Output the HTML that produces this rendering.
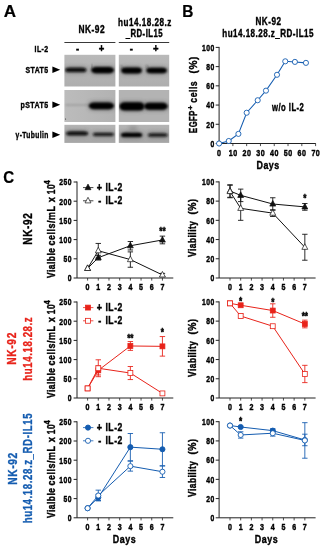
<!DOCTYPE html>
<html><head><meta charset="utf-8"><title>Figure</title>
<style>html,body{margin:0;padding:0;background:#fff}svg{display:block}text{font-family:"Liberation Sans",Arial,sans-serif;font-weight:bold}</style>
</head><body>
<svg width="325" height="550" viewBox="0 0 325 550">
<rect width="325" height="550" fill="#fff"/>
<text transform="translate(3.67,16.90) rotate(0) scale(1.0648,1)" font-size="16" text-anchor="start" fill="#000" stroke="#000" stroke-width="0.2" letter-spacing="0.96">A</text>
<text transform="translate(182.20,16.90) rotate(0) scale(0.9654,1)" font-size="16" text-anchor="start" fill="#000" stroke="#000" stroke-width="0.2" letter-spacing="0.96">B</text>
<text transform="translate(3.30,182.60) rotate(0) scale(0.9447,1)" font-size="16" text-anchor="start" fill="#000" stroke="#000" stroke-width="0.2" letter-spacing="0.96">C</text>
<text transform="translate(78.46,33.00) rotate(0) scale(0.8383,1)" font-size="10" text-anchor="start" fill="#000" stroke="#000" stroke-width="0.38" letter-spacing="0.6">NK-92</text>
<text transform="translate(118.07,25.60) rotate(0) scale(0.8124,1)" font-size="10" text-anchor="start" fill="#000" stroke="#000" stroke-width="0.38" letter-spacing="0.6">hu14.18.28.z</text>
<text transform="translate(125.68,37.40) rotate(0) scale(0.7764,1)" font-size="10" text-anchor="start" fill="#000" stroke="#000" stroke-width="0.38" letter-spacing="0.6">_RD-IL15</text>
<path d="M64.4 42.5H115.4M118.8 42.5H169.2" stroke="#222" stroke-width="0.9" fill="none"/>
<text transform="translate(34.54,52.40) rotate(0) scale(0.7787,1)" font-size="9" text-anchor="start" fill="#000" stroke="#000" stroke-width="0.38" letter-spacing="0.54">IL-2</text>
<text transform="translate(77.60,51.60) rotate(0) scale(0.9000,1)" font-size="10.5" text-anchor="middle" fill="#000" stroke="#000" stroke-width="0.45">-</text>
<text transform="translate(101.60,52.40) rotate(0) scale(0.9000,1)" font-size="10.5" text-anchor="middle" fill="#000" stroke="#000" stroke-width="0.45">+</text>
<text transform="translate(131.20,51.60) rotate(0) scale(0.9000,1)" font-size="10.5" text-anchor="middle" fill="#000" stroke="#000" stroke-width="0.45">-</text>
<text transform="translate(155.70,52.40) rotate(0) scale(0.9000,1)" font-size="10.5" text-anchor="middle" fill="#000" stroke="#000" stroke-width="0.45">+</text>
<text transform="translate(25.43,73.00) rotate(0) scale(0.7754,1)" font-size="9" text-anchor="start" fill="#000" stroke="#000" stroke-width="0.38" letter-spacing="0.54">STAT5</text>
<path d="M52.4 66.6L60.2 69.8L52.4 73.0Z" fill="#000"/>
<text transform="translate(20.54,108.00) rotate(0) scale(0.7812,1)" font-size="9" text-anchor="start" fill="#000" stroke="#000" stroke-width="0.38" letter-spacing="0.54">pSTAT5</text>
<path d="M52.4 101.6L60.2 104.8L52.4 108.0Z" fill="#000"/>
<text transform="translate(15.60,138.00) rotate(0) scale(0.7430,1)" font-size="9" text-anchor="start" fill="#000" stroke="#000" stroke-width="0.38" letter-spacing="0.54">γ-Tubulin</text>
<path d="M52.4 131.60000000000002L60.2 134.8L52.4 138.0Z" fill="#000"/>
<defs><filter id="b1" x="-20%" y="-80%" width="140%" height="260%"><feGaussianBlur stdDeviation="0.9 0.8"/></filter><filter id="b2" x="-20%" y="-80%" width="140%" height="260%"><feGaussianBlur stdDeviation="1.2 1.0"/></filter><filter id="b3" x="-30%" y="-150%" width="160%" height="400%"><feGaussianBlur stdDeviation="2.0 2.2"/></filter><linearGradient id="bgA" x1="0" y1="0" x2="0" y2="1"><stop offset="0" stop-color="#b9b9b9"/><stop offset="1" stop-color="#aeaeae"/></linearGradient><linearGradient id="bgB" x1="0" y1="0" x2="1" y2="0"><stop offset="0" stop-color="#bcbcbc"/><stop offset="1" stop-color="#b2b2b2"/></linearGradient><linearGradient id="bgC" x1="0" y1="0" x2="0" y2="1"><stop offset="0" stop-color="#b4b4b4"/><stop offset="1" stop-color="#a6a6a6"/></linearGradient></defs>
<clipPath id="c1"><rect x="64.4" y="54.8" width="51.0" height="31.700000000000003"/></clipPath>
<rect x="64.4" y="54.8" width="51.0" height="31.700000000000003" fill="url(#bgA)"/>
<g clip-path="url(#c1)">
<rect x="64.8" y="66.90" width="22.0" height="6.00" rx="3.20" fill="#333" opacity="0.45" filter="url(#b3)"/>
<rect x="65.3" y="67.70" width="21.0" height="4.4" rx="4.62" ry="2.2" fill="#0a0a0a" filter="url(#b1)"/>
<rect x="90.7" y="66.20" width="23.799999999999997" height="7.80" rx="4.10" fill="#333" opacity="0.45" filter="url(#b3)"/>
<rect x="91.2" y="67.00" width="22.799999999999997" height="6.2" rx="5.02" ry="3.1" fill="#000" filter="url(#b1)"/>
<path d="M91.6 64.8L92.6 68.5" stroke="#222" stroke-width="0.7" filter="url(#b1)"/>
</g>
<clipPath id="c2"><rect x="118.8" y="54.8" width="50.39999999999999" height="31.700000000000003"/></clipPath>
<rect x="118.8" y="54.8" width="50.39999999999999" height="31.700000000000003" fill="url(#bgA)"/>
<g clip-path="url(#c2)">
<rect x="120.8" y="66.80" width="21.500000000000014" height="7.40" rx="3.90" fill="#333" opacity="0.45" filter="url(#b3)"/>
<rect x="121.3" y="67.60" width="20.500000000000014" height="5.8" rx="4.51" ry="2.9" fill="#000" filter="url(#b1)"/>
<rect x="145.9" y="67.00" width="21.400000000000006" height="7.00" rx="3.70" fill="#333" opacity="0.45" filter="url(#b3)"/>
<rect x="146.4" y="67.80" width="20.400000000000006" height="5.4" rx="4.49" ry="2.7" fill="#000" filter="url(#b1)"/>
<path d="M121.2 65.5L122.4 68.8M146.6 65.2L147.6 68.6" stroke="#222" stroke-width="0.7" filter="url(#b1)"/>
</g>
<clipPath id="c3"><rect x="64.4" y="90" width="51.0" height="32"/></clipPath>
<rect x="64.4" y="90" width="51.0" height="32" fill="url(#bgB)"/>
<g clip-path="url(#c3)">
<rect x="65" y="104.10" width="24" height="1.8" rx="2.16" ry="0.9" fill="#a2a2a2" filter="url(#b2)"/>
<rect x="88.3" y="101.60" width="26.200000000000003" height="8.40" rx="4.40" fill="#333" opacity="0.45" filter="url(#b3)"/>
<rect x="88.8" y="102.40" width="25.200000000000003" height="6.8" rx="5.54" ry="3.4" fill="#000" filter="url(#b1)"/>
<circle cx="65.6" cy="119" r="0.55" fill="#222"/>
</g>
<clipPath id="c4"><rect x="118.8" y="90" width="50.39999999999999" height="32"/></clipPath>
<rect x="118.8" y="90" width="50.39999999999999" height="32" fill="#b3b3b3"/>
<g clip-path="url(#c4)">
<rect x="118.9" y="101.40" width="26.19999999999999" height="9.80" rx="5.10" fill="#333" opacity="0.45" filter="url(#b3)"/>
<rect x="119.4" y="102.20" width="25.19999999999999" height="8.2" rx="5.54" ry="4.1" fill="#000" filter="url(#b1)"/>
<rect x="143.7" y="102.00" width="24.400000000000006" height="8.60" rx="4.50" fill="#333" opacity="0.45" filter="url(#b3)"/>
<rect x="144.2" y="102.80" width="23.400000000000006" height="7.0" rx="5.15" ry="3.5" fill="#000" filter="url(#b1)"/>

</g>
<clipPath id="c5"><rect x="64.4" y="124.8" width="51.0" height="18.10000000000001"/></clipPath>
<rect x="64.4" y="124.8" width="51.0" height="18.10000000000001" fill="url(#bgC)"/>
<g clip-path="url(#c5)">
<rect x="65.8" y="130.70" width="22.700000000000003" height="5.40" rx="2.90" fill="#333" opacity="0.45" filter="url(#b3)"/>
<rect x="66.3" y="131.50" width="21.700000000000003" height="3.8" rx="4.56" ry="1.9" fill="#0a0a0a" filter="url(#b1)"/>
<rect x="92.5" y="132.20" width="21.799999999999997" height="4.40" rx="2.40" fill="#333" opacity="0.45" filter="url(#b3)"/>
<rect x="93" y="133.00" width="20.799999999999997" height="2.8" rx="3.36" ry="1.4" fill="#111" filter="url(#b1)"/>

</g>
<clipPath id="c6"><rect x="118.8" y="124.8" width="50.39999999999999" height="18.10000000000001"/></clipPath>
<rect x="118.8" y="124.8" width="50.39999999999999" height="18.10000000000001" fill="url(#bgC)"/>
<g clip-path="url(#c6)">
<rect x="120.5" y="131.90" width="22.19999999999999" height="6.00" rx="3.20" fill="#333" opacity="0.45" filter="url(#b3)"/>
<rect x="121" y="132.70" width="21.19999999999999" height="4.4" rx="4.66" ry="2.2" fill="#050505" filter="url(#b1)"/>
<rect x="147.5" y="132.60" width="20.5" height="4.80" rx="2.60" fill="#333" opacity="0.45" filter="url(#b3)"/>
<rect x="148" y="133.40" width="19.5" height="3.2" rx="3.84" ry="1.6" fill="#111" filter="url(#b1)"/>
<ellipse cx="133" cy="128.5" rx="4" ry="3" fill="#777" opacity="0.5" filter="url(#b3)"/>
</g>
<path d="M219.1 46.90V143.5H315.8M215.7 143.50H219.1M215.7 124.28H219.1M215.7 105.06H219.1M215.7 85.84H219.1M215.7 66.62H219.1M215.7 47.40H219.1" stroke="#222" stroke-width="1" fill="none"/>
<path d="M219.10 143.5V146.1M232.89 143.5V146.1M246.67 143.5V146.1M260.46 143.5V146.1M274.24 143.5V146.1M288.03 143.5V146.1M301.82 143.5V146.1M315.60 143.5V146.1" stroke="#222" stroke-width="0.8" fill="none"/>
<text transform="translate(214.70,146.85) rotate(0) scale(0.7200,1)" font-size="9.4" text-anchor="end" fill="#000" stroke="#000" stroke-width="0.45" letter-spacing="0.7">0</text>
<text transform="translate(214.70,127.63) rotate(0) scale(0.7200,1)" font-size="9.4" text-anchor="end" fill="#000" stroke="#000" stroke-width="0.45" letter-spacing="0.7">20</text>
<text transform="translate(214.70,108.41) rotate(0) scale(0.7200,1)" font-size="9.4" text-anchor="end" fill="#000" stroke="#000" stroke-width="0.45" letter-spacing="0.7">40</text>
<text transform="translate(214.70,89.19) rotate(0) scale(0.7200,1)" font-size="9.4" text-anchor="end" fill="#000" stroke="#000" stroke-width="0.45" letter-spacing="0.7">60</text>
<text transform="translate(214.70,69.97) rotate(0) scale(0.7200,1)" font-size="9.4" text-anchor="end" fill="#000" stroke="#000" stroke-width="0.45" letter-spacing="0.7">80</text>
<text transform="translate(214.70,50.75) rotate(0) scale(0.7200,1)" font-size="9.4" text-anchor="end" fill="#000" stroke="#000" stroke-width="0.45" letter-spacing="0.7">100</text>
<text transform="translate(219.35,156.10) rotate(0) scale(0.7400,1)" font-size="9.6" text-anchor="middle" fill="#000" stroke="#000" stroke-width="0.45" letter-spacing="0.7">0</text>
<text transform="translate(233.14,156.10) rotate(0) scale(0.7400,1)" font-size="9.6" text-anchor="middle" fill="#000" stroke="#000" stroke-width="0.45" letter-spacing="0.7">10</text>
<text transform="translate(246.92,156.10) rotate(0) scale(0.7400,1)" font-size="9.6" text-anchor="middle" fill="#000" stroke="#000" stroke-width="0.45" letter-spacing="0.7">20</text>
<text transform="translate(260.71,156.10) rotate(0) scale(0.7400,1)" font-size="9.6" text-anchor="middle" fill="#000" stroke="#000" stroke-width="0.45" letter-spacing="0.7">30</text>
<text transform="translate(274.50,156.10) rotate(0) scale(0.7400,1)" font-size="9.6" text-anchor="middle" fill="#000" stroke="#000" stroke-width="0.45" letter-spacing="0.7">40</text>
<text transform="translate(288.28,156.10) rotate(0) scale(0.7400,1)" font-size="9.6" text-anchor="middle" fill="#000" stroke="#000" stroke-width="0.45" letter-spacing="0.7">50</text>
<text transform="translate(302.07,156.10) rotate(0) scale(0.7400,1)" font-size="9.6" text-anchor="middle" fill="#000" stroke="#000" stroke-width="0.45" letter-spacing="0.7">60</text>
<text transform="translate(315.85,156.10) rotate(0) scale(0.7400,1)" font-size="9.6" text-anchor="middle" fill="#000" stroke="#000" stroke-width="0.45" letter-spacing="0.7">70</text>
<text transform="translate(255.47,25.30) rotate(0) scale(0.8152,1)" font-size="10" text-anchor="start" fill="#000" stroke="#000" stroke-width="0.38" letter-spacing="0.6">NK-92</text>
<text transform="translate(222.28,36.90) rotate(0) scale(0.8035,1)" font-size="10" text-anchor="start" fill="#000" stroke="#000" stroke-width="0.38" letter-spacing="0.6">hu14.18.28.z_RD-IL15</text>
<text transform="translate(256.42,169.00) rotate(0) scale(0.8097,1)" font-size="11" text-anchor="start" fill="#000" stroke="#000" stroke-width="0.38" letter-spacing="0.6599999999999999">Days</text>
<text transform="translate(272.04,111.00) rotate(0) scale(0.7689,1)" font-size="10" text-anchor="start" fill="#000" stroke="#000" stroke-width="0.38" letter-spacing="0.6">w/o IL-2</text>
<text transform="translate(196.60,132.90) rotate(-90) scale(0.7336,1)" font-size="10.4" text-anchor="start" fill="#000" stroke="#000" stroke-width="0.38" letter-spacing="0.624">EGFP</text>
<text transform="translate(193.00,107.60) rotate(-90) scale(0.9000,1)" font-size="8" text-anchor="middle" fill="#000" stroke="#000" stroke-width="0.45">+</text>
<text transform="translate(196.60,102.70) rotate(-90) scale(0.8351,1)" font-size="10.4" text-anchor="start" fill="#000" stroke="#000" stroke-width="0.38" letter-spacing="0.624">cells</text>
<text transform="translate(196.60,73.46) rotate(-90) scale(0.9737,1)" font-size="10.4" text-anchor="start" fill="#000" stroke="#000" stroke-width="0.38" letter-spacing="0.624">(%)</text>
<path d="M219.10 143.50L228.75 141.00L238.40 133.89L246.67 112.75L257.70 100.25L265.97 90.65L277.00 74.79L285.27 61.33L294.92 61.91L305.95 62.87" stroke="#145cb0" stroke-width="1.05" fill="none"/>
<circle cx="219.10" cy="143.50" r="2.57" fill="#fff" stroke="#145cb0" stroke-width="0.9"/>
<circle cx="228.75" cy="141.00" r="2.57" fill="#fff" stroke="#145cb0" stroke-width="0.9"/>
<circle cx="238.40" cy="133.89" r="2.57" fill="#fff" stroke="#145cb0" stroke-width="0.9"/>
<circle cx="246.67" cy="112.75" r="2.57" fill="#fff" stroke="#145cb0" stroke-width="0.9"/>
<circle cx="257.70" cy="100.25" r="2.57" fill="#fff" stroke="#145cb0" stroke-width="0.9"/>
<circle cx="265.97" cy="90.65" r="2.57" fill="#fff" stroke="#145cb0" stroke-width="0.9"/>
<circle cx="277.00" cy="74.79" r="2.57" fill="#fff" stroke="#145cb0" stroke-width="0.9"/>
<circle cx="285.27" cy="61.33" r="2.57" fill="#fff" stroke="#145cb0" stroke-width="0.9"/>
<circle cx="294.92" cy="61.91" r="2.57" fill="#fff" stroke="#145cb0" stroke-width="0.9"/>
<circle cx="305.95" cy="62.87" r="2.57" fill="#fff" stroke="#145cb0" stroke-width="0.9"/>
<path d="M77.0 181.50V278.0H173.3M73.6 278.00H77.0M73.6 258.80H77.0M73.6 239.60H77.0M73.6 220.40H77.0M73.6 201.20H77.0M73.6 182.00H77.0" stroke="#222" stroke-width="1" fill="none"/>
<path d="M87.60 278.0V280.6M98.29 278.0V280.6M108.98 278.0V280.6M119.67 278.0V280.6M130.36 278.0V280.6M141.05 278.0V280.6M151.74 278.0V280.6M162.43 278.0V280.6" stroke="#222" stroke-width="0.8" fill="none"/>
<text transform="translate(72.00,281.35) rotate(0) scale(0.7200,1)" font-size="9.4" text-anchor="end" fill="#000" stroke="#000" stroke-width="0.45" letter-spacing="0.7">0</text>
<text transform="translate(72.00,262.15) rotate(0) scale(0.7200,1)" font-size="9.4" text-anchor="end" fill="#000" stroke="#000" stroke-width="0.45" letter-spacing="0.7">50</text>
<text transform="translate(72.00,242.95) rotate(0) scale(0.7200,1)" font-size="9.4" text-anchor="end" fill="#000" stroke="#000" stroke-width="0.45" letter-spacing="0.7">100</text>
<text transform="translate(72.00,223.75) rotate(0) scale(0.7200,1)" font-size="9.4" text-anchor="end" fill="#000" stroke="#000" stroke-width="0.45" letter-spacing="0.7">150</text>
<text transform="translate(72.00,204.55) rotate(0) scale(0.7200,1)" font-size="9.4" text-anchor="end" fill="#000" stroke="#000" stroke-width="0.45" letter-spacing="0.7">200</text>
<text transform="translate(72.00,185.35) rotate(0) scale(0.7200,1)" font-size="9.4" text-anchor="end" fill="#000" stroke="#000" stroke-width="0.45" letter-spacing="0.7">250</text>
<text transform="translate(87.85,290.00) rotate(0) scale(0.7400,1)" font-size="9.6" text-anchor="middle" fill="#000" stroke="#000" stroke-width="0.45" letter-spacing="0.7">0</text>
<text transform="translate(98.54,290.00) rotate(0) scale(0.7400,1)" font-size="9.6" text-anchor="middle" fill="#000" stroke="#000" stroke-width="0.45" letter-spacing="0.7">1</text>
<text transform="translate(109.23,290.00) rotate(0) scale(0.7400,1)" font-size="9.6" text-anchor="middle" fill="#000" stroke="#000" stroke-width="0.45" letter-spacing="0.7">2</text>
<text transform="translate(119.92,290.00) rotate(0) scale(0.7400,1)" font-size="9.6" text-anchor="middle" fill="#000" stroke="#000" stroke-width="0.45" letter-spacing="0.7">3</text>
<text transform="translate(130.61,290.00) rotate(0) scale(0.7400,1)" font-size="9.6" text-anchor="middle" fill="#000" stroke="#000" stroke-width="0.45" letter-spacing="0.7">4</text>
<text transform="translate(141.30,290.00) rotate(0) scale(0.7400,1)" font-size="9.6" text-anchor="middle" fill="#000" stroke="#000" stroke-width="0.45" letter-spacing="0.7">5</text>
<text transform="translate(151.99,290.00) rotate(0) scale(0.7400,1)" font-size="9.6" text-anchor="middle" fill="#000" stroke="#000" stroke-width="0.45" letter-spacing="0.7">6</text>
<text transform="translate(162.68,290.00) rotate(0) scale(0.7400,1)" font-size="9.6" text-anchor="middle" fill="#000" stroke="#000" stroke-width="0.45" letter-spacing="0.7">7</text>
<path d="M87.60 268.40L98.29 257.65L130.36 245.74L162.43 239.98" stroke="#111" stroke-width="1.0" fill="none"/>
<path d="M98.29 255.34V259.95M95.59 255.34H100.99M95.59 259.95H100.99M130.36 241.52V249.97M127.66 241.52H133.06M127.66 249.97H133.06M162.43 236.14V243.82M159.73 236.14H165.13M159.73 243.82H165.13" stroke="#111" stroke-width="0.88" fill="none"/>
<path d="M87.60 264.90L90.55 270.50H84.65Z" fill="#111" stroke="#111" stroke-width="0.7" stroke-linejoin="miter"/>
<path d="M98.29 254.15L101.24 259.75H95.34Z" fill="#111" stroke="#111" stroke-width="0.7" stroke-linejoin="miter"/>
<path d="M130.36 242.24L133.31 247.84H127.41Z" fill="#111" stroke="#111" stroke-width="0.7" stroke-linejoin="miter"/>
<path d="M162.43 236.48L165.38 242.08H159.48Z" fill="#111" stroke="#111" stroke-width="0.7" stroke-linejoin="miter"/>
<path d="M87.60 268.40L98.29 250.74L130.36 259.57L162.43 274.93" stroke="#111" stroke-width="1.0" fill="none"/>
<path d="M98.29 243.44V258.03M95.59 243.44H100.99M95.59 258.03H100.99M130.36 251.89V267.25M127.66 251.89H133.06M127.66 267.25H133.06M162.43 273.39V276.46M159.73 273.39H165.13M159.73 276.46H165.13" stroke="#111" stroke-width="0.88" fill="none"/>
<path d="M87.60 264.90L90.55 270.50H84.65Z" fill="#fff" stroke="#111" stroke-width="0.7" stroke-linejoin="miter"/>
<path d="M98.29 247.24L101.24 252.84H95.34Z" fill="#fff" stroke="#111" stroke-width="0.7" stroke-linejoin="miter"/>
<path d="M130.36 256.07L133.31 261.67H127.41Z" fill="#fff" stroke="#111" stroke-width="0.7" stroke-linejoin="miter"/>
<path d="M162.43 271.43L165.38 277.03H159.48Z" fill="#fff" stroke="#111" stroke-width="0.7" stroke-linejoin="miter"/>
<path d="M83 187.6H93.4M83 200.79999999999998H93.4" stroke="#111" stroke-width="0.8"/>
<path d="M88.00 184.10L90.95 189.70H85.05Z" fill="#111" stroke="#111" stroke-width="0.7" stroke-linejoin="miter"/>
<path d="M88.00 197.30L90.95 202.90H85.05Z" fill="#fff" stroke="#111" stroke-width="0.7" stroke-linejoin="miter"/>
<text transform="translate(99.50,191.00) rotate(0) scale(0.9000,1)" font-size="10" text-anchor="middle" fill="#000" stroke="#000" stroke-width="0.45">+</text>
<text transform="translate(105.44,191.00) rotate(0) scale(0.8625,1)" font-size="10" text-anchor="start" fill="#000" stroke="#000" stroke-width="0.38" letter-spacing="0.6">IL-2</text>
<text transform="translate(99.80,203.60) rotate(0) scale(0.9000,1)" font-size="10" text-anchor="middle" fill="#000" stroke="#000" stroke-width="0.45">-</text>
<text transform="translate(105.44,203.60) rotate(0) scale(0.8625,1)" font-size="10" text-anchor="start" fill="#000" stroke="#000" stroke-width="0.38" letter-spacing="0.6">IL-2</text>
<text transform="translate(162.43,234.80) rotate(0) scale(0.8200,1)" font-size="10" text-anchor="middle" fill="#000" stroke="#000" stroke-width="0.45">**</text>
<text transform="translate(54.60,278.04) rotate(-90) scale(0.8090,1)" font-size="10.4" text-anchor="start" fill="#000" stroke="#000" stroke-width="0.38" letter-spacing="0.624">Vialble</text>
<text transform="translate(54.60,245.61) rotate(-90) scale(0.8601,1)" font-size="10.4" text-anchor="start" fill="#000" stroke="#000" stroke-width="0.38" letter-spacing="0.624">cells/mL</text>
<text transform="translate(54.60,202.35) rotate(-90) scale(0.8821,1)" font-size="10.4" text-anchor="start" fill="#000" stroke="#000" stroke-width="0.38" letter-spacing="0.624">x</text>
<text transform="translate(54.60,194.20) rotate(-90) scale(0.8050,1)" font-size="10.4" text-anchor="start" fill="#000" stroke="#000" stroke-width="0.38" letter-spacing="0.624">10</text>
<text transform="translate(49.70,184.41) rotate(-90) scale(0.8932,1)" font-size="8.5" text-anchor="start" fill="#000" stroke="#000" stroke-width="0.38" letter-spacing="0.51">4</text>
<path d="M219.1 181.40V278.0H315.6M215.7 278.00H219.1M215.7 258.78H219.1M215.7 239.56H219.1M215.7 220.34H219.1M215.7 201.12H219.1M215.7 181.90H219.1" stroke="#222" stroke-width="1" fill="none"/>
<path d="M230.00 278.0V280.6M240.69 278.0V280.6M251.38 278.0V280.6M262.07 278.0V280.6M272.76 278.0V280.6M283.45 278.0V280.6M294.14 278.0V280.6M304.83 278.0V280.6" stroke="#222" stroke-width="0.8" fill="none"/>
<text transform="translate(214.70,281.35) rotate(0) scale(0.7200,1)" font-size="9.4" text-anchor="end" fill="#000" stroke="#000" stroke-width="0.45" letter-spacing="0.7">0</text>
<text transform="translate(214.70,262.13) rotate(0) scale(0.7200,1)" font-size="9.4" text-anchor="end" fill="#000" stroke="#000" stroke-width="0.45" letter-spacing="0.7">20</text>
<text transform="translate(214.70,242.91) rotate(0) scale(0.7200,1)" font-size="9.4" text-anchor="end" fill="#000" stroke="#000" stroke-width="0.45" letter-spacing="0.7">40</text>
<text transform="translate(214.70,223.69) rotate(0) scale(0.7200,1)" font-size="9.4" text-anchor="end" fill="#000" stroke="#000" stroke-width="0.45" letter-spacing="0.7">60</text>
<text transform="translate(214.70,204.47) rotate(0) scale(0.7200,1)" font-size="9.4" text-anchor="end" fill="#000" stroke="#000" stroke-width="0.45" letter-spacing="0.7">80</text>
<text transform="translate(214.70,185.25) rotate(0) scale(0.7200,1)" font-size="9.4" text-anchor="end" fill="#000" stroke="#000" stroke-width="0.45" letter-spacing="0.7">100</text>
<text transform="translate(230.25,290.00) rotate(0) scale(0.7400,1)" font-size="9.6" text-anchor="middle" fill="#000" stroke="#000" stroke-width="0.45" letter-spacing="0.7">0</text>
<text transform="translate(240.94,290.00) rotate(0) scale(0.7400,1)" font-size="9.6" text-anchor="middle" fill="#000" stroke="#000" stroke-width="0.45" letter-spacing="0.7">1</text>
<text transform="translate(251.63,290.00) rotate(0) scale(0.7400,1)" font-size="9.6" text-anchor="middle" fill="#000" stroke="#000" stroke-width="0.45" letter-spacing="0.7">2</text>
<text transform="translate(262.32,290.00) rotate(0) scale(0.7400,1)" font-size="9.6" text-anchor="middle" fill="#000" stroke="#000" stroke-width="0.45" letter-spacing="0.7">3</text>
<text transform="translate(273.01,290.00) rotate(0) scale(0.7400,1)" font-size="9.6" text-anchor="middle" fill="#000" stroke="#000" stroke-width="0.45" letter-spacing="0.7">4</text>
<text transform="translate(283.70,290.00) rotate(0) scale(0.7400,1)" font-size="9.6" text-anchor="middle" fill="#000" stroke="#000" stroke-width="0.45" letter-spacing="0.7">5</text>
<text transform="translate(294.39,290.00) rotate(0) scale(0.7400,1)" font-size="9.6" text-anchor="middle" fill="#000" stroke="#000" stroke-width="0.45" letter-spacing="0.7">6</text>
<text transform="translate(305.08,290.00) rotate(0) scale(0.7400,1)" font-size="9.6" text-anchor="middle" fill="#000" stroke="#000" stroke-width="0.45" letter-spacing="0.7">7</text>
<path d="M230.00 191.03L240.69 195.35L272.76 204.00L304.83 206.89" stroke="#111" stroke-width="1.0" fill="none"/>
<path d="M230.00 184.78V197.28M227.30 184.78H232.70M227.30 197.28H232.70M240.69 189.11V201.60M237.99 189.11H243.39M237.99 201.60H243.39M272.76 197.76V210.25M270.06 197.76H275.46M270.06 210.25H275.46M304.83 203.52V210.25M302.13 203.52H307.53M302.13 210.25H307.53" stroke="#111" stroke-width="0.88" fill="none"/>
<path d="M230.00 187.53L232.95 193.13H227.05Z" fill="#111" stroke="#111" stroke-width="0.7" stroke-linejoin="miter"/>
<path d="M240.69 191.85L243.64 197.45H237.74Z" fill="#111" stroke="#111" stroke-width="0.7" stroke-linejoin="miter"/>
<path d="M272.76 200.50L275.71 206.10H269.81Z" fill="#111" stroke="#111" stroke-width="0.7" stroke-linejoin="miter"/>
<path d="M304.83 203.39L307.78 208.99H301.88Z" fill="#111" stroke="#111" stroke-width="0.7" stroke-linejoin="miter"/>
<path d="M230.00 191.51L240.69 208.33L272.76 213.13L304.83 247.25" stroke="#111" stroke-width="1.0" fill="none"/>
<path d="M230.00 185.26V197.76M227.30 185.26H232.70M227.30 197.76H232.70M240.69 196.31V220.34M237.99 196.31H243.39M237.99 220.34H243.39M272.76 209.77V216.50M270.06 209.77H275.46M270.06 216.50H275.46M304.83 234.27V260.22M302.13 234.27H307.53M302.13 260.22H307.53" stroke="#111" stroke-width="0.88" fill="none"/>
<path d="M230.00 188.01L232.95 193.61H227.05Z" fill="#fff" stroke="#111" stroke-width="0.7" stroke-linejoin="miter"/>
<path d="M240.69 204.83L243.64 210.43H237.74Z" fill="#fff" stroke="#111" stroke-width="0.7" stroke-linejoin="miter"/>
<path d="M272.76 209.63L275.71 215.23H269.81Z" fill="#fff" stroke="#111" stroke-width="0.7" stroke-linejoin="miter"/>
<path d="M304.83 243.75L307.78 249.35H301.88Z" fill="#fff" stroke="#111" stroke-width="0.7" stroke-linejoin="miter"/>
<text transform="translate(304.83,202.30) rotate(0) scale(0.8200,1)" font-size="10" text-anchor="middle" fill="#000" stroke="#000" stroke-width="0.45">*</text>
<text transform="translate(196.00,257.04) rotate(-90) scale(0.8069,1)" font-size="10.4" text-anchor="start" fill="#000" stroke="#000" stroke-width="0.38" letter-spacing="0.624">Viability</text>
<text transform="translate(196.00,214.42) rotate(-90) scale(0.8885,1)" font-size="10.4" text-anchor="start" fill="#000" stroke="#000" stroke-width="0.38" letter-spacing="0.624">(%)</text>
<path d="M77.0 301.50V398.0H173.3M73.6 398.00H77.0M73.6 378.80H77.0M73.6 359.60H77.0M73.6 340.40H77.0M73.6 321.20H77.0M73.6 302.00H77.0" stroke="#222" stroke-width="1" fill="none"/>
<path d="M87.60 398.0V400.6M98.29 398.0V400.6M108.98 398.0V400.6M119.67 398.0V400.6M130.36 398.0V400.6M141.05 398.0V400.6M151.74 398.0V400.6M162.43 398.0V400.6" stroke="#222" stroke-width="0.8" fill="none"/>
<text transform="translate(72.00,401.35) rotate(0) scale(0.7200,1)" font-size="9.4" text-anchor="end" fill="#000" stroke="#000" stroke-width="0.45" letter-spacing="0.7">0</text>
<text transform="translate(72.00,382.15) rotate(0) scale(0.7200,1)" font-size="9.4" text-anchor="end" fill="#000" stroke="#000" stroke-width="0.45" letter-spacing="0.7">50</text>
<text transform="translate(72.00,362.95) rotate(0) scale(0.7200,1)" font-size="9.4" text-anchor="end" fill="#000" stroke="#000" stroke-width="0.45" letter-spacing="0.7">100</text>
<text transform="translate(72.00,343.75) rotate(0) scale(0.7200,1)" font-size="9.4" text-anchor="end" fill="#000" stroke="#000" stroke-width="0.45" letter-spacing="0.7">150</text>
<text transform="translate(72.00,324.55) rotate(0) scale(0.7200,1)" font-size="9.4" text-anchor="end" fill="#000" stroke="#000" stroke-width="0.45" letter-spacing="0.7">200</text>
<text transform="translate(72.00,305.35) rotate(0) scale(0.7200,1)" font-size="9.4" text-anchor="end" fill="#000" stroke="#000" stroke-width="0.45" letter-spacing="0.7">250</text>
<text transform="translate(87.85,410.00) rotate(0) scale(0.7400,1)" font-size="9.6" text-anchor="middle" fill="#000" stroke="#000" stroke-width="0.45" letter-spacing="0.7">0</text>
<text transform="translate(98.54,410.00) rotate(0) scale(0.7400,1)" font-size="9.6" text-anchor="middle" fill="#000" stroke="#000" stroke-width="0.45" letter-spacing="0.7">1</text>
<text transform="translate(109.23,410.00) rotate(0) scale(0.7400,1)" font-size="9.6" text-anchor="middle" fill="#000" stroke="#000" stroke-width="0.45" letter-spacing="0.7">2</text>
<text transform="translate(119.92,410.00) rotate(0) scale(0.7400,1)" font-size="9.6" text-anchor="middle" fill="#000" stroke="#000" stroke-width="0.45" letter-spacing="0.7">3</text>
<text transform="translate(130.61,410.00) rotate(0) scale(0.7400,1)" font-size="9.6" text-anchor="middle" fill="#000" stroke="#000" stroke-width="0.45" letter-spacing="0.7">4</text>
<text transform="translate(141.30,410.00) rotate(0) scale(0.7400,1)" font-size="9.6" text-anchor="middle" fill="#000" stroke="#000" stroke-width="0.45" letter-spacing="0.7">5</text>
<text transform="translate(151.99,410.00) rotate(0) scale(0.7400,1)" font-size="9.6" text-anchor="middle" fill="#000" stroke="#000" stroke-width="0.45" letter-spacing="0.7">6</text>
<text transform="translate(162.68,410.00) rotate(0) scale(0.7400,1)" font-size="9.6" text-anchor="middle" fill="#000" stroke="#000" stroke-width="0.45" letter-spacing="0.7">7</text>
<path d="M87.60 388.40L98.29 370.35L130.36 345.97L162.43 346.35" stroke="#e8231a" stroke-width="1.0" fill="none"/>
<path d="M98.29 365.74V374.96M95.59 365.74H100.99M95.59 374.96H100.99M130.36 341.55V350.38M127.66 341.55H133.06M127.66 350.38H133.06M162.43 336.56V356.14M159.73 336.56H165.13M159.73 356.14H165.13" stroke="#e8231a" stroke-width="0.88" fill="none"/>
<rect x="85.15" y="385.95" width="4.90" height="4.90" fill="#e8231a" stroke="#e8231a" stroke-width="0.8"/>
<rect x="95.84" y="367.90" width="4.90" height="4.90" fill="#e8231a" stroke="#e8231a" stroke-width="0.8"/>
<rect x="127.91" y="343.52" width="4.90" height="4.90" fill="#e8231a" stroke="#e8231a" stroke-width="0.8"/>
<rect x="159.98" y="343.90" width="4.90" height="4.90" fill="#e8231a" stroke="#e8231a" stroke-width="0.8"/>
<path d="M87.60 388.40L98.29 368.24L130.36 373.04L162.43 393.39" stroke="#e8231a" stroke-width="1.0" fill="none"/>
<path d="M98.29 359.79V376.69M95.59 359.79H100.99M95.59 376.69H100.99M130.36 366.51V379.57M127.66 366.51H133.06M127.66 379.57H133.06" stroke="#e8231a" stroke-width="0.88" fill="none"/>
<rect x="85.15" y="385.95" width="4.90" height="4.90" fill="#fff" stroke="#e8231a" stroke-width="0.8"/>
<rect x="95.84" y="365.79" width="4.90" height="4.90" fill="#fff" stroke="#e8231a" stroke-width="0.8"/>
<rect x="127.91" y="370.59" width="4.90" height="4.90" fill="#fff" stroke="#e8231a" stroke-width="0.8"/>
<rect x="159.98" y="390.94" width="4.90" height="4.90" fill="#fff" stroke="#e8231a" stroke-width="0.8"/>
<path d="M83 307.6H93.4M83 320.8H93.4" stroke="#e8231a" stroke-width="0.8"/>
<rect x="85.55" y="305.15" width="4.90" height="4.90" fill="#e8231a" stroke="#e8231a" stroke-width="0.8"/>
<rect x="85.55" y="318.35" width="4.90" height="4.90" fill="#fff" stroke="#e8231a" stroke-width="0.8"/>
<text transform="translate(99.50,311.00) rotate(0) scale(0.9000,1)" font-size="10" text-anchor="middle" fill="#000" stroke="#000" stroke-width="0.45">+</text>
<text transform="translate(105.44,311.00) rotate(0) scale(0.8625,1)" font-size="10" text-anchor="start" fill="#000" stroke="#000" stroke-width="0.38" letter-spacing="0.6">IL-2</text>
<text transform="translate(99.80,323.60) rotate(0) scale(0.9000,1)" font-size="10" text-anchor="middle" fill="#000" stroke="#000" stroke-width="0.45">-</text>
<text transform="translate(105.44,323.60) rotate(0) scale(0.8625,1)" font-size="10" text-anchor="start" fill="#000" stroke="#000" stroke-width="0.38" letter-spacing="0.6">IL-2</text>
<text transform="translate(130.36,341.80) rotate(0) scale(0.8200,1)" font-size="10" text-anchor="middle" fill="#000" stroke="#000" stroke-width="0.45">**</text>
<text transform="translate(162.43,335.60) rotate(0) scale(0.8200,1)" font-size="10" text-anchor="middle" fill="#000" stroke="#000" stroke-width="0.45">*</text>
<text transform="translate(54.60,398.04) rotate(-90) scale(0.8090,1)" font-size="10.4" text-anchor="start" fill="#000" stroke="#000" stroke-width="0.38" letter-spacing="0.624">Vialble</text>
<text transform="translate(54.60,365.61) rotate(-90) scale(0.8601,1)" font-size="10.4" text-anchor="start" fill="#000" stroke="#000" stroke-width="0.38" letter-spacing="0.624">cells/mL</text>
<text transform="translate(54.60,322.35) rotate(-90) scale(0.8821,1)" font-size="10.4" text-anchor="start" fill="#000" stroke="#000" stroke-width="0.38" letter-spacing="0.624">x</text>
<text transform="translate(54.60,314.20) rotate(-90) scale(0.8050,1)" font-size="10.4" text-anchor="start" fill="#000" stroke="#000" stroke-width="0.38" letter-spacing="0.624">10</text>
<text transform="translate(49.70,304.41) rotate(-90) scale(0.8932,1)" font-size="8.5" text-anchor="start" fill="#000" stroke="#000" stroke-width="0.38" letter-spacing="0.51">4</text>
<path d="M219.1 301.40V398.0H315.6M215.7 398.00H219.1M215.7 378.78H219.1M215.7 359.56H219.1M215.7 340.34H219.1M215.7 321.12H219.1M215.7 301.90H219.1" stroke="#222" stroke-width="1" fill="none"/>
<path d="M230.00 398.0V400.6M240.69 398.0V400.6M251.38 398.0V400.6M262.07 398.0V400.6M272.76 398.0V400.6M283.45 398.0V400.6M294.14 398.0V400.6M304.83 398.0V400.6" stroke="#222" stroke-width="0.8" fill="none"/>
<text transform="translate(214.70,401.35) rotate(0) scale(0.7200,1)" font-size="9.4" text-anchor="end" fill="#000" stroke="#000" stroke-width="0.45" letter-spacing="0.7">0</text>
<text transform="translate(214.70,382.13) rotate(0) scale(0.7200,1)" font-size="9.4" text-anchor="end" fill="#000" stroke="#000" stroke-width="0.45" letter-spacing="0.7">20</text>
<text transform="translate(214.70,362.91) rotate(0) scale(0.7200,1)" font-size="9.4" text-anchor="end" fill="#000" stroke="#000" stroke-width="0.45" letter-spacing="0.7">40</text>
<text transform="translate(214.70,343.69) rotate(0) scale(0.7200,1)" font-size="9.4" text-anchor="end" fill="#000" stroke="#000" stroke-width="0.45" letter-spacing="0.7">60</text>
<text transform="translate(214.70,324.47) rotate(0) scale(0.7200,1)" font-size="9.4" text-anchor="end" fill="#000" stroke="#000" stroke-width="0.45" letter-spacing="0.7">80</text>
<text transform="translate(214.70,305.25) rotate(0) scale(0.7200,1)" font-size="9.4" text-anchor="end" fill="#000" stroke="#000" stroke-width="0.45" letter-spacing="0.7">100</text>
<text transform="translate(230.25,410.00) rotate(0) scale(0.7400,1)" font-size="9.6" text-anchor="middle" fill="#000" stroke="#000" stroke-width="0.45" letter-spacing="0.7">0</text>
<text transform="translate(240.94,410.00) rotate(0) scale(0.7400,1)" font-size="9.6" text-anchor="middle" fill="#000" stroke="#000" stroke-width="0.45" letter-spacing="0.7">1</text>
<text transform="translate(251.63,410.00) rotate(0) scale(0.7400,1)" font-size="9.6" text-anchor="middle" fill="#000" stroke="#000" stroke-width="0.45" letter-spacing="0.7">2</text>
<text transform="translate(262.32,410.00) rotate(0) scale(0.7400,1)" font-size="9.6" text-anchor="middle" fill="#000" stroke="#000" stroke-width="0.45" letter-spacing="0.7">3</text>
<text transform="translate(273.01,410.00) rotate(0) scale(0.7400,1)" font-size="9.6" text-anchor="middle" fill="#000" stroke="#000" stroke-width="0.45" letter-spacing="0.7">4</text>
<text transform="translate(283.70,410.00) rotate(0) scale(0.7400,1)" font-size="9.6" text-anchor="middle" fill="#000" stroke="#000" stroke-width="0.45" letter-spacing="0.7">5</text>
<text transform="translate(294.39,410.00) rotate(0) scale(0.7400,1)" font-size="9.6" text-anchor="middle" fill="#000" stroke="#000" stroke-width="0.45" letter-spacing="0.7">6</text>
<text transform="translate(305.08,410.00) rotate(0) scale(0.7400,1)" font-size="9.6" text-anchor="middle" fill="#000" stroke="#000" stroke-width="0.45" letter-spacing="0.7">7</text>
<path d="M230.00 303.34L240.69 305.26L272.76 310.55L304.83 324.00" stroke="#e8231a" stroke-width="1.0" fill="none"/>
<path d="M272.76 303.82V317.28M270.06 303.82H275.46M270.06 317.28H275.46M304.83 320.16V327.85M302.13 320.16H307.53M302.13 327.85H307.53" stroke="#e8231a" stroke-width="0.88" fill="none"/>
<rect x="227.55" y="300.89" width="4.90" height="4.90" fill="#e8231a" stroke="#e8231a" stroke-width="0.8"/>
<rect x="238.24" y="302.81" width="4.90" height="4.90" fill="#e8231a" stroke="#e8231a" stroke-width="0.8"/>
<rect x="270.31" y="308.10" width="4.90" height="4.90" fill="#e8231a" stroke="#e8231a" stroke-width="0.8"/>
<rect x="302.38" y="321.55" width="4.90" height="4.90" fill="#e8231a" stroke="#e8231a" stroke-width="0.8"/>
<path d="M230.00 303.34L240.69 316.03L272.76 326.21L304.83 373.98" stroke="#e8231a" stroke-width="1.0" fill="none"/>
<path d="M240.69 314.10V317.95M237.99 314.10H243.39M237.99 317.95H243.39M304.83 365.33V382.62M302.13 365.33H307.53M302.13 382.62H307.53" stroke="#e8231a" stroke-width="0.88" fill="none"/>
<rect x="227.55" y="300.89" width="4.90" height="4.90" fill="#fff" stroke="#e8231a" stroke-width="0.8"/>
<rect x="238.24" y="313.58" width="4.90" height="4.90" fill="#fff" stroke="#e8231a" stroke-width="0.8"/>
<rect x="270.31" y="323.76" width="4.90" height="4.90" fill="#fff" stroke="#e8231a" stroke-width="0.8"/>
<rect x="302.38" y="371.53" width="4.90" height="4.90" fill="#fff" stroke="#e8231a" stroke-width="0.8"/>
<text transform="translate(240.69,304.60) rotate(0) scale(0.8200,1)" font-size="10" text-anchor="middle" fill="#000" stroke="#000" stroke-width="0.45">*</text>
<text transform="translate(272.76,305.80) rotate(0) scale(0.8200,1)" font-size="10" text-anchor="middle" fill="#000" stroke="#000" stroke-width="0.45">*</text>
<text transform="translate(304.83,320.10) rotate(0) scale(0.8200,1)" font-size="10" text-anchor="middle" fill="#000" stroke="#000" stroke-width="0.45">**</text>
<text transform="translate(196.00,377.04) rotate(-90) scale(0.8069,1)" font-size="10.4" text-anchor="start" fill="#000" stroke="#000" stroke-width="0.38" letter-spacing="0.624">Viability</text>
<text transform="translate(196.00,334.42) rotate(-90) scale(0.8885,1)" font-size="10.4" text-anchor="start" fill="#000" stroke="#000" stroke-width="0.38" letter-spacing="0.624">(%)</text>
<path d="M77.0 421.30V517.8H173.3M73.6 517.80H77.0M73.6 498.60H77.0M73.6 479.40H77.0M73.6 460.20H77.0M73.6 441.00H77.0M73.6 421.80H77.0" stroke="#222" stroke-width="1" fill="none"/>
<path d="M87.60 517.8V520.4M98.29 517.8V520.4M108.98 517.8V520.4M119.67 517.8V520.4M130.36 517.8V520.4M141.05 517.8V520.4M151.74 517.8V520.4M162.43 517.8V520.4" stroke="#222" stroke-width="0.8" fill="none"/>
<text transform="translate(72.00,521.15) rotate(0) scale(0.7200,1)" font-size="9.4" text-anchor="end" fill="#000" stroke="#000" stroke-width="0.45" letter-spacing="0.7">0</text>
<text transform="translate(72.00,501.95) rotate(0) scale(0.7200,1)" font-size="9.4" text-anchor="end" fill="#000" stroke="#000" stroke-width="0.45" letter-spacing="0.7">50</text>
<text transform="translate(72.00,482.75) rotate(0) scale(0.7200,1)" font-size="9.4" text-anchor="end" fill="#000" stroke="#000" stroke-width="0.45" letter-spacing="0.7">100</text>
<text transform="translate(72.00,463.55) rotate(0) scale(0.7200,1)" font-size="9.4" text-anchor="end" fill="#000" stroke="#000" stroke-width="0.45" letter-spacing="0.7">150</text>
<text transform="translate(72.00,444.35) rotate(0) scale(0.7200,1)" font-size="9.4" text-anchor="end" fill="#000" stroke="#000" stroke-width="0.45" letter-spacing="0.7">200</text>
<text transform="translate(72.00,425.15) rotate(0) scale(0.7200,1)" font-size="9.4" text-anchor="end" fill="#000" stroke="#000" stroke-width="0.45" letter-spacing="0.7">250</text>
<text transform="translate(87.85,529.80) rotate(0) scale(0.7400,1)" font-size="9.6" text-anchor="middle" fill="#000" stroke="#000" stroke-width="0.45" letter-spacing="0.7">0</text>
<text transform="translate(98.54,529.80) rotate(0) scale(0.7400,1)" font-size="9.6" text-anchor="middle" fill="#000" stroke="#000" stroke-width="0.45" letter-spacing="0.7">1</text>
<text transform="translate(109.23,529.80) rotate(0) scale(0.7400,1)" font-size="9.6" text-anchor="middle" fill="#000" stroke="#000" stroke-width="0.45" letter-spacing="0.7">2</text>
<text transform="translate(119.92,529.80) rotate(0) scale(0.7400,1)" font-size="9.6" text-anchor="middle" fill="#000" stroke="#000" stroke-width="0.45" letter-spacing="0.7">3</text>
<text transform="translate(130.61,529.80) rotate(0) scale(0.7400,1)" font-size="9.6" text-anchor="middle" fill="#000" stroke="#000" stroke-width="0.45" letter-spacing="0.7">4</text>
<text transform="translate(141.30,529.80) rotate(0) scale(0.7400,1)" font-size="9.6" text-anchor="middle" fill="#000" stroke="#000" stroke-width="0.45" letter-spacing="0.7">5</text>
<text transform="translate(151.99,529.80) rotate(0) scale(0.7400,1)" font-size="9.6" text-anchor="middle" fill="#000" stroke="#000" stroke-width="0.45" letter-spacing="0.7">6</text>
<text transform="translate(162.68,529.80) rotate(0) scale(0.7400,1)" font-size="9.6" text-anchor="middle" fill="#000" stroke="#000" stroke-width="0.45" letter-spacing="0.7">7</text>
<path d="M87.60 508.20L98.29 497.45L130.36 447.14L162.43 449.26" stroke="#145cb0" stroke-width="1.0" fill="none"/>
<path d="M98.29 494.38V500.52M95.59 494.38H100.99M95.59 500.52H100.99M130.36 433.51V460.78M127.66 433.51H133.06M127.66 460.78H133.06M162.43 432.74V465.77M159.73 432.74H165.13M159.73 465.77H165.13" stroke="#145cb0" stroke-width="0.88" fill="none"/>
<circle cx="87.60" cy="508.20" r="2.57" fill="#145cb0" stroke="#145cb0" stroke-width="0.9"/>
<circle cx="98.29" cy="497.45" r="2.57" fill="#145cb0" stroke="#145cb0" stroke-width="0.9"/>
<circle cx="130.36" cy="447.14" r="2.57" fill="#145cb0" stroke="#145cb0" stroke-width="0.9"/>
<circle cx="162.43" cy="449.26" r="2.57" fill="#145cb0" stroke="#145cb0" stroke-width="0.9"/>
<path d="M87.60 508.20L98.29 495.53L130.36 466.15L162.43 471.72" stroke="#145cb0" stroke-width="1.0" fill="none"/>
<path d="M98.29 490.15V500.90M95.59 490.15H100.99M95.59 500.90H100.99M130.36 461.16V471.14M127.66 461.16H133.06M127.66 471.14H133.06M162.43 465.96V477.48M159.73 465.96H165.13M159.73 477.48H165.13" stroke="#145cb0" stroke-width="0.88" fill="none"/>
<circle cx="87.60" cy="508.20" r="2.57" fill="#fff" stroke="#145cb0" stroke-width="0.9"/>
<circle cx="98.29" cy="495.53" r="2.57" fill="#fff" stroke="#145cb0" stroke-width="0.9"/>
<circle cx="130.36" cy="466.15" r="2.57" fill="#fff" stroke="#145cb0" stroke-width="0.9"/>
<circle cx="162.43" cy="471.72" r="2.57" fill="#fff" stroke="#145cb0" stroke-width="0.9"/>
<path d="M83 427.6H93.4M83 440.8H93.4" stroke="#145cb0" stroke-width="0.8"/>
<circle cx="88.00" cy="427.60" r="2.57" fill="#145cb0" stroke="#145cb0" stroke-width="0.9"/>
<circle cx="88.00" cy="440.80" r="2.57" fill="#fff" stroke="#145cb0" stroke-width="0.9"/>
<text transform="translate(99.50,431.00) rotate(0) scale(0.9000,1)" font-size="10" text-anchor="middle" fill="#000" stroke="#000" stroke-width="0.45">+</text>
<text transform="translate(105.44,431.00) rotate(0) scale(0.8625,1)" font-size="10" text-anchor="start" fill="#000" stroke="#000" stroke-width="0.38" letter-spacing="0.6">IL-2</text>
<text transform="translate(99.80,443.60) rotate(0) scale(0.9000,1)" font-size="10" text-anchor="middle" fill="#000" stroke="#000" stroke-width="0.45">-</text>
<text transform="translate(105.44,443.60) rotate(0) scale(0.8625,1)" font-size="10" text-anchor="start" fill="#000" stroke="#000" stroke-width="0.38" letter-spacing="0.6">IL-2</text>
<text transform="translate(54.60,518.04) rotate(-90) scale(0.8090,1)" font-size="10.4" text-anchor="start" fill="#000" stroke="#000" stroke-width="0.38" letter-spacing="0.624">Vialble</text>
<text transform="translate(54.60,485.61) rotate(-90) scale(0.8601,1)" font-size="10.4" text-anchor="start" fill="#000" stroke="#000" stroke-width="0.38" letter-spacing="0.624">cells/mL</text>
<text transform="translate(54.60,442.35) rotate(-90) scale(0.8821,1)" font-size="10.4" text-anchor="start" fill="#000" stroke="#000" stroke-width="0.38" letter-spacing="0.624">x</text>
<text transform="translate(54.60,434.20) rotate(-90) scale(0.8050,1)" font-size="10.4" text-anchor="start" fill="#000" stroke="#000" stroke-width="0.38" letter-spacing="0.624">10</text>
<text transform="translate(49.70,424.41) rotate(-90) scale(0.8932,1)" font-size="8.5" text-anchor="start" fill="#000" stroke="#000" stroke-width="0.38" letter-spacing="0.51">4</text>
<path d="M219.1 421.20V517.8H315.6M215.7 517.80H219.1M215.7 498.58H219.1M215.7 479.36H219.1M215.7 460.14H219.1M215.7 440.92H219.1M215.7 421.70H219.1" stroke="#222" stroke-width="1" fill="none"/>
<path d="M230.00 517.8V520.4M240.69 517.8V520.4M251.38 517.8V520.4M262.07 517.8V520.4M272.76 517.8V520.4M283.45 517.8V520.4M294.14 517.8V520.4M304.83 517.8V520.4" stroke="#222" stroke-width="0.8" fill="none"/>
<text transform="translate(214.70,521.15) rotate(0) scale(0.7200,1)" font-size="9.4" text-anchor="end" fill="#000" stroke="#000" stroke-width="0.45" letter-spacing="0.7">0</text>
<text transform="translate(214.70,501.93) rotate(0) scale(0.7200,1)" font-size="9.4" text-anchor="end" fill="#000" stroke="#000" stroke-width="0.45" letter-spacing="0.7">20</text>
<text transform="translate(214.70,482.71) rotate(0) scale(0.7200,1)" font-size="9.4" text-anchor="end" fill="#000" stroke="#000" stroke-width="0.45" letter-spacing="0.7">40</text>
<text transform="translate(214.70,463.49) rotate(0) scale(0.7200,1)" font-size="9.4" text-anchor="end" fill="#000" stroke="#000" stroke-width="0.45" letter-spacing="0.7">60</text>
<text transform="translate(214.70,444.27) rotate(0) scale(0.7200,1)" font-size="9.4" text-anchor="end" fill="#000" stroke="#000" stroke-width="0.45" letter-spacing="0.7">80</text>
<text transform="translate(214.70,425.05) rotate(0) scale(0.7200,1)" font-size="9.4" text-anchor="end" fill="#000" stroke="#000" stroke-width="0.45" letter-spacing="0.7">100</text>
<text transform="translate(230.25,529.80) rotate(0) scale(0.7400,1)" font-size="9.6" text-anchor="middle" fill="#000" stroke="#000" stroke-width="0.45" letter-spacing="0.7">0</text>
<text transform="translate(240.94,529.80) rotate(0) scale(0.7400,1)" font-size="9.6" text-anchor="middle" fill="#000" stroke="#000" stroke-width="0.45" letter-spacing="0.7">1</text>
<text transform="translate(251.63,529.80) rotate(0) scale(0.7400,1)" font-size="9.6" text-anchor="middle" fill="#000" stroke="#000" stroke-width="0.45" letter-spacing="0.7">2</text>
<text transform="translate(262.32,529.80) rotate(0) scale(0.7400,1)" font-size="9.6" text-anchor="middle" fill="#000" stroke="#000" stroke-width="0.45" letter-spacing="0.7">3</text>
<text transform="translate(273.01,529.80) rotate(0) scale(0.7400,1)" font-size="9.6" text-anchor="middle" fill="#000" stroke="#000" stroke-width="0.45" letter-spacing="0.7">4</text>
<text transform="translate(283.70,529.80) rotate(0) scale(0.7400,1)" font-size="9.6" text-anchor="middle" fill="#000" stroke="#000" stroke-width="0.45" letter-spacing="0.7">5</text>
<text transform="translate(294.39,529.80) rotate(0) scale(0.7400,1)" font-size="9.6" text-anchor="middle" fill="#000" stroke="#000" stroke-width="0.45" letter-spacing="0.7">6</text>
<text transform="translate(305.08,529.80) rotate(0) scale(0.7400,1)" font-size="9.6" text-anchor="middle" fill="#000" stroke="#000" stroke-width="0.45" letter-spacing="0.7">7</text>
<path d="M230.00 425.54L240.69 426.99L272.76 430.64L304.83 439.96" stroke="#145cb0" stroke-width="1.0" fill="none"/>
<path d="M272.76 428.72V432.56M270.06 428.72H275.46M270.06 432.56H275.46M304.83 434.19V445.72M302.13 434.19H307.53M302.13 445.72H307.53" stroke="#145cb0" stroke-width="0.88" fill="none"/>
<circle cx="230.00" cy="425.54" r="2.57" fill="#145cb0" stroke="#145cb0" stroke-width="0.9"/>
<circle cx="240.69" cy="426.99" r="2.57" fill="#145cb0" stroke="#145cb0" stroke-width="0.9"/>
<circle cx="272.76" cy="430.64" r="2.57" fill="#145cb0" stroke="#145cb0" stroke-width="0.9"/>
<circle cx="304.83" cy="439.96" r="2.57" fill="#145cb0" stroke="#145cb0" stroke-width="0.9"/>
<path d="M230.00 425.54L240.69 434.96L272.76 433.23L304.83 440.44" stroke="#145cb0" stroke-width="1.0" fill="none"/>
<path d="M240.69 431.79V438.13M237.99 431.79H243.39M237.99 438.13H243.39M272.76 430.35V436.11M270.06 430.35H275.46M270.06 436.11H275.46M304.83 422.66V458.22M302.13 422.66H307.53M302.13 458.22H307.53" stroke="#145cb0" stroke-width="0.88" fill="none"/>
<circle cx="230.00" cy="425.54" r="2.57" fill="#fff" stroke="#145cb0" stroke-width="0.9"/>
<circle cx="240.69" cy="434.96" r="2.57" fill="#fff" stroke="#145cb0" stroke-width="0.9"/>
<circle cx="272.76" cy="433.23" r="2.57" fill="#fff" stroke="#145cb0" stroke-width="0.9"/>
<circle cx="304.83" cy="440.44" r="2.57" fill="#fff" stroke="#145cb0" stroke-width="0.9"/>
<text transform="translate(240.69,425.30) rotate(0) scale(0.8200,1)" font-size="10" text-anchor="middle" fill="#000" stroke="#000" stroke-width="0.45">*</text>
<text transform="translate(196.00,497.04) rotate(-90) scale(0.8069,1)" font-size="10.4" text-anchor="start" fill="#000" stroke="#000" stroke-width="0.38" letter-spacing="0.624">Viability</text>
<text transform="translate(196.00,454.42) rotate(-90) scale(0.8885,1)" font-size="10.4" text-anchor="start" fill="#000" stroke="#000" stroke-width="0.38" letter-spacing="0.624">(%)</text>
<text transform="translate(32.00,244.65) rotate(-90) scale(0.8388,1)" font-size="12.0" text-anchor="start" fill="#000" stroke="#000" stroke-width="0.33" letter-spacing="0.72">NK-92</text>
<text transform="translate(16.40,364.67) rotate(-90) scale(0.8526,1)" font-size="12.0" text-anchor="start" fill="#e8231a" stroke="#e8231a" stroke-width="0.33" letter-spacing="0.72">NK-92</text>
<text transform="translate(32.00,380.63) rotate(-90) scale(0.8062,1)" font-size="12.0" text-anchor="start" fill="#e8231a" stroke="#e8231a" stroke-width="0.33" letter-spacing="0.72">hu14.18.28.z</text>
<text transform="translate(16.80,484.76) rotate(-90) scale(0.8498,1)" font-size="12.0" text-anchor="start" fill="#145cb0" stroke="#145cb0" stroke-width="0.33" letter-spacing="0.72">NK-92</text>
<text transform="translate(32.30,523.33) rotate(-90) scale(0.8064,1)" font-size="12.0" text-anchor="start" fill="#145cb0" stroke="#145cb0" stroke-width="0.33" letter-spacing="0.72">hu14.18.28.z_RD-IL15</text>
<text transform="translate(112.82,543.00) rotate(0) scale(0.8097,1)" font-size="11" text-anchor="start" fill="#000" stroke="#000" stroke-width="0.38" letter-spacing="0.6599999999999999">Days</text>
<text transform="translate(254.82,543.00) rotate(0) scale(0.8097,1)" font-size="11" text-anchor="start" fill="#000" stroke="#000" stroke-width="0.38" letter-spacing="0.6599999999999999">Days</text>
</svg>
</body></html>
